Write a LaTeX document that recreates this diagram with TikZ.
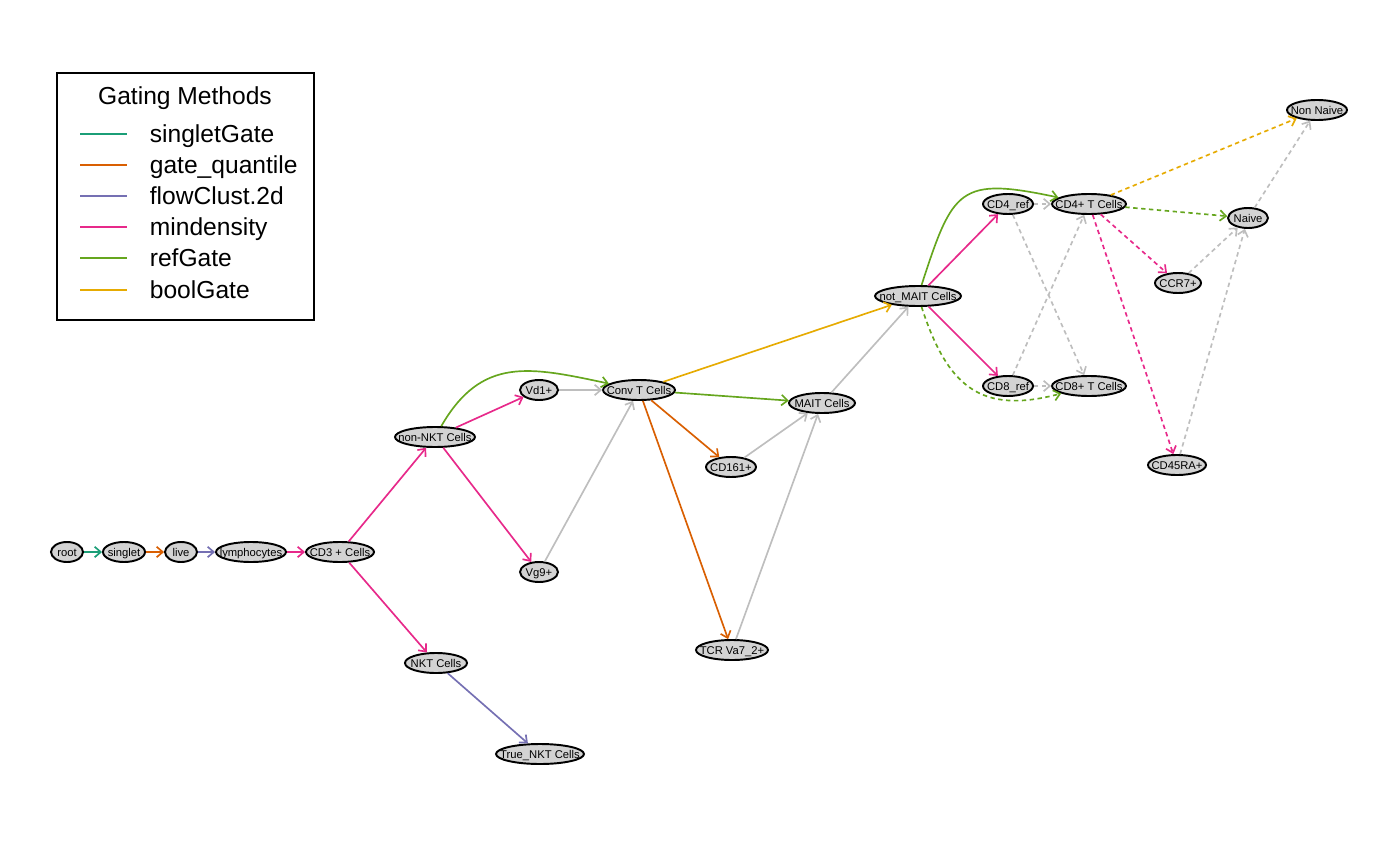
\documentclass[tikz,border=0pt]{standalone}
\usepackage{fontspec}
\setmainfont{Liberation Sans}
\usepackage{xcolor}
\usetikzlibrary{arrows.meta, shapes.geometric}

\definecolor{gteal}{HTML}{1B9E77}
\definecolor{gorange}{HTML}{D95F02}
\definecolor{gpurple}{HTML}{7570B3}
\definecolor{gpink}{HTML}{E7298A}
\definecolor{ggreen}{HTML}{66A61E}
\definecolor{gyellow}{HTML}{E6AB02}
\definecolor{ggray}{HTML}{BEBEBE}
\definecolor{nodefill}{HTML}{D3D3D3}

\begin{document}
\begin{tikzpicture}[x=0.02cm, y=-0.02cm, >={Straight Barb[length=3.5pt,width=6pt]},
    gate/.style={ellipse, draw, line width=1.1pt, fill=nodefill, font=\fontsize{6.4}{7}\selectfont,
      inner xsep=-30pt, inner ysep=0pt, minimum height=0.4cm, text height=4.6pt, text depth=0pt},
    edge/.style={->, line width=0.95pt},
    dedge/.style={->, line width=0.95pt, dash pattern=on 2.5pt off 2pt},
    legtext/.style={anchor=west, font=\fontsize{14}{16}\selectfont, inner sep=0pt, text height=10pt, text depth=0pt}]
      \useasboundingbox (0, 0) rectangle (1400, 865);

      % legend
      \draw[line width=0.8pt] (57, 73) rectangle (314, 320);
      \node[font=\fontsize{14}{16}\selectfont, text height=10pt, text depth=0pt] (legtitle) at (185, 96) {Gating Methods};
      \draw[gteal, line width=1pt] (80, 134) -- (127, 134) node[legtext, black] at (149, 134) (legsinglet) {singletGate};
      \draw[gorange, line width=1pt] (80, 165) -- (127, 165) node[legtext, black] at (149, 165) (legquantile) {gate\_quantile};
      \draw[gpurple, line width=1pt] (80, 196) -- (127, 196) node[legtext, black] at (149, 196) (legflow) {flowClust.2d};
      \draw[gpink, line width=1pt] (80, 227) -- (127, 227) node[legtext, black] at (149, 227) (legmin) {mindensity};
      \draw[ggreen, line width=1pt] (80, 258) -- (127, 258) node[legtext, black] at (149, 258) (legref) {refGate};
      \draw[gyellow, line width=1pt] (80, 290) -- (127, 290) node[legtext, black] at (149, 290) (legbool) {boolGate};

      % gates
      \node[gate, minimum width=0.64cm] (root) at (67, 552) {root};
      \node[gate, minimum width=0.84cm] (singlet) at (124, 552) {singlet};
      \node[gate, minimum width=0.64cm] (live) at (181, 552) {live};
      \node[gate, minimum width=1.40cm] (lymph) at (251, 552) {lymphocytes};
      \node[gate, minimum width=1.36cm] (cdthree) at (340, 552) {CD3 + Cells};
      \node[gate, minimum width=1.60cm] (nonnkt) at (435, 437) {non-NKT Cells};
      \node[gate, minimum width=1.24cm] (nkt) at (436, 663) {NKT Cells};
      \node[gate, minimum width=1.76cm] (truenkt) at (540, 754) {True\_NKT Cells};
      \node[gate, minimum width=0.76cm] (vdone) at (539, 390) {Vd1+};
      \node[gate, minimum width=0.76cm] (vgnine) at (539, 572) {Vg9+};
      \node[gate, minimum width=1.44cm] (convt) at (639, 390) {Conv T Cells};
      \node[gate, minimum width=1.00cm] (cdonesixone) at (731, 467) {CD161+};
      \node[gate, minimum width=1.32cm] (mait) at (822, 403) {MAIT Cells};
      \node[gate, minimum width=1.44cm] (tcr) at (732, 650) {TCR Va7\_2+};
      \node[gate, minimum width=1.72cm] (notmait) at (918, 296) {not\_MAIT Cells};
      \node[gate, minimum width=1.00cm] (cdfourref) at (1008, 204) {CD4\_ref};
      \node[gate, minimum width=1.00cm] (cdeightref) at (1008, 386) {CD8\_ref};
      \node[gate, minimum width=1.48cm] (cdfour) at (1089, 204) {CD4+ T Cells};
      \node[gate, minimum width=1.48cm] (cdeight) at (1089, 386) {CD8+ T Cells};
      \node[gate, minimum width=1.20cm] (nonnaive) at (1317, 110) {Non Naive};
      \node[gate, minimum width=0.80cm] (naive) at (1248, 218) {Naive};
      \node[gate, minimum width=0.92cm] (ccr) at (1178, 283) {CCR7+};
      \node[gate, minimum width=1.16cm] (cdra) at (1177, 465) {CD45RA+};

      % gating edges
      \draw[edge, gteal] (root) -- (singlet);
      \draw[edge, gorange] (singlet) -- (live);
      \draw[edge, gpurple] (live) -- (lymph);
      \draw[edge, gpink] (lymph) -- (cdthree);
      \draw[edge, gpink] (cdthree) -- (nonnkt);
      \draw[edge, gpink] (cdthree) -- (nkt);
      \draw[edge, gpurple] (nkt) -- (truenkt);
      \draw[edge, gpink] (nonnkt) -- (vdone);
      \draw[edge, gpink] (nonnkt) -- (vgnine);
      \draw[edge, ggreen] (nonnkt) to[out=60, in=168, looseness=1.2] (convt);
      \draw[edge, ggray] (vdone) -- (convt);
      \draw[edge, ggray] (vgnine) -- (convt);
      \draw[edge, ggreen] (convt) -- (mait);
      \draw[edge, gorange] (convt) -- (cdonesixone);
      \draw[edge, gorange] (convt) -- (tcr);
      \draw[edge, gyellow] (convt) -- (notmait);
      \draw[edge, ggray] (cdonesixone) -- (mait);
      \draw[edge, ggray] (tcr) -- (mait);
      \draw[edge, ggray] (mait) -- (notmait);
      \draw[edge, gpink] (notmait) -- (cdfourref);
      \draw[edge, gpink] (notmait) -- (cdeightref);
      \draw[edge, ggreen] (notmait) to[out=72, in=168, looseness=1.6] (cdfour);
      \draw[dedge, ggreen] (notmait) to[out=-72, in=195, looseness=1.3] (cdeight);

      % reference and boolean gates
      \draw[dedge, ggray] (cdfourref) -- (cdfour);
      \draw[dedge, ggray] (cdfourref) -- (cdeight);
      \draw[dedge, ggray] (cdeightref) -- (cdeight);
      \draw[dedge, ggray] (cdeightref) -- (cdfour);
      \draw[dedge, gyellow] (cdfour) -- (nonnaive);
      \draw[dedge, ggreen] (cdfour) -- (naive);
      \draw[dedge, gpink] (cdfour) -- (ccr);
      \draw[dedge, gpink] (cdfour) -- (cdra);
      \draw[dedge, ggray] (ccr) -- (naive);
      \draw[dedge, ggray] (cdra) -- (naive);
      \draw[dedge, ggray] (naive) -- (nonnaive);
    \end{tikzpicture}
\end{document}
